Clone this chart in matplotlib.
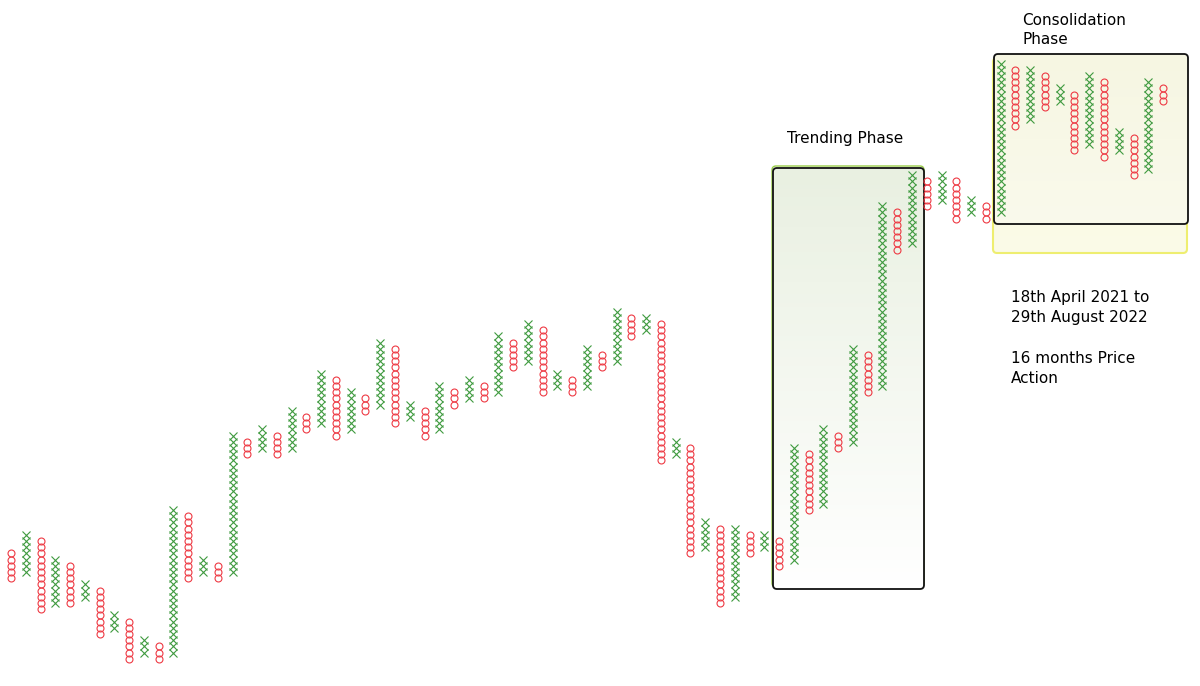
import numpy as np
import matplotlib.pyplot as plt
from matplotlib.patches import FancyBboxPatch

# point & figure columns: kind, bottom box, top box
kinds = ["O", "X"] * 39 + ["O"]
bottoms = [14, 15, 9, 10, 10, 11, 5, 6, 1, 2, 1, 2, 14, 15, 14, 15, 34, 35, 34, 35,
           38, 39, 37, 38, 41, 42, 39, 40, 37, 38, 42, 43, 43, 44, 48, 49, 44, 45, 44, 45,
           48, 49, 53, 54, 33, 34, 18, 19, 10, 11, 18, 19, 16, 17, 25, 26, 35, 36, 44, 45,
           67, 68, 74, 75, 72, 73, 72, 73, 87, 88, 90, 91, 83, 84, 82, 83, 79, 80, 91]
tops = [18, 21, 20, 17, 16, 13, 12, 8, 7, 4, 3, 25, 24, 17, 16, 37, 36, 38, 37, 41,
        40, 47, 46, 44, 43, 52, 51, 42, 41, 45, 44, 46, 45, 53, 52, 55, 54, 47, 46, 51,
        50, 57, 56, 56, 55, 36, 35, 23, 22, 22, 21, 21, 20, 35, 34, 38, 37, 51, 50, 74,
        73, 79, 78, 79, 78, 75, 74, 97, 96, 96, 95, 93, 92, 95, 94, 86, 85, 94, 93]

GREEN = "#3f9a3f"
RED = "#ee3a44"

fig = plt.figure(figsize=(12, 6.86), dpi=100)

# background layer in pixel coordinates for the annotation boxes
bg = fig.add_axes([0, 0, 1, 1])
bg.set_xlim(0, 1200)
bg.set_ylim(686, 0)
bg.axis("off")


def grad_box(x0, y0, x1, y1, c_top, c_bot, edge, lw, z):
    box = FancyBboxPatch((x0, y0), x1 - x0, y1 - y0, boxstyle="round,pad=0,rounding_size=4",
                         facecolor="none", edgecolor=edge, linewidth=lw, zorder=z + 1)
    bg.add_patch(box)
    g = np.linspace(0, 1, 100)[:, None]
    c0 = np.array(plt.matplotlib.colors.to_rgb(c_top))
    c1 = np.array(plt.matplotlib.colors.to_rgb(c_bot))
    img = c0 * (1 - g[..., None]) + c1 * g[..., None]
    im = bg.imshow(img, extent=(x0, x1, y1, y0), aspect="auto", zorder=z)
    im.set_clip_path(box)


grad_box(772, 166, 924, 587, "#ffffff", "#ffffff", "#9acd4a", 1.0, 1)
grad_box(773, 168, 924, 589, "#e9f0e1", "#ffffff", "#111111", 1.3, 2)
grad_box(993, 58, 1187, 253, "#f4f4dc", "#fbfbe8", "#eeee70", 1.5, 1)
grad_box(994, 54, 1188, 224, "#f6f6e2", "#fafaec", "#111111", 1.3, 2)

bg.text(787, 138, "Trending Phase", fontsize=11, va="center", ha="left")
bg.text(1022, 30, "Consolidation\nPhase", fontsize=11, va="center", ha="left", linespacing=1.3)
bg.text(1011, 338, "18th April 2021 to\n29th August 2022\n\n16 months Price\nAction",
        fontsize=11, va="center", ha="left", linespacing=1.45)

# chart layer in column / box units
ax = fig.add_axes([0, 0, 1, 1])
ax.patch.set_alpha(0)
col_w = 14.77
box_h = 6.2
ax.set_xlim(-11 / col_w, (1200 - 11) / col_w)
ax.set_ylim((665 - 686) / box_h, 665 / box_h)
ax.axis("off")

for i, (k, b, t) in enumerate(zip(kinds, bottoms, tops)):
    lv = np.arange(b, t + 1)
    xs = np.full(len(lv), i)
    if k == "X":
        ax.plot(xs, lv, ls="none", marker="x", ms=5.6, mew=0.8, color=GREEN)
    else:
        ax.plot(xs, lv, ls="none", marker="o", ms=5.0, mew=0.8, mfc="none", color=RED)

fig.savefig("out.png", dpi=100)
